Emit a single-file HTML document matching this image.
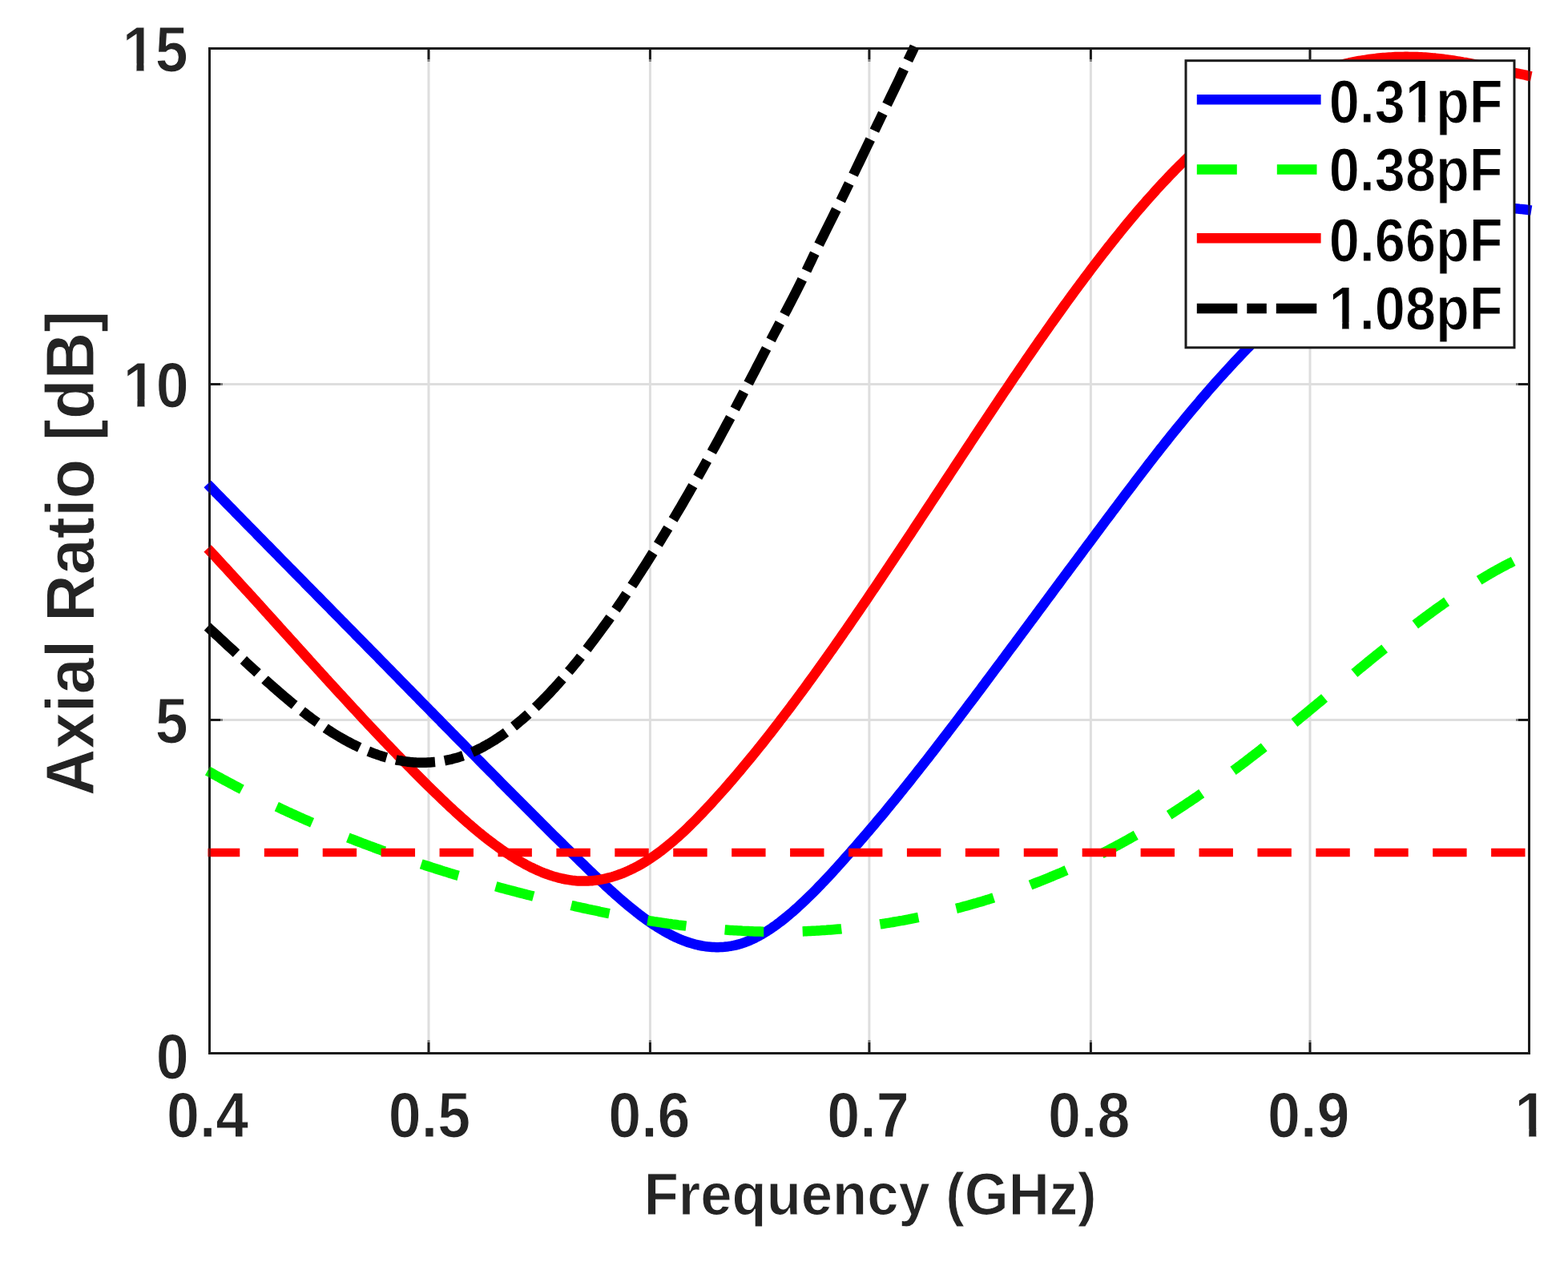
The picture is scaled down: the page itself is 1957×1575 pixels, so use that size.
<!DOCTYPE html>
<html lang="en">
<head>
<meta charset="utf-8">
<title>Axial Ratio vs Frequency</title>
<style>
html,body{margin:0;padding:0;background:#ffffff;}
body{width:1957px;height:1575px;overflow:hidden;font-family:'Liberation Sans', Arial, Helvetica, sans-serif;}
svg text{white-space:pre;}
</style>
</head>
<body>
<svg xmlns="http://www.w3.org/2000/svg" width="1957" height="1575" viewBox="0 0 1957 1575" style="display:block">
<rect x="0" y="0" width="1957" height="1575" fill="#ffffff"/>
<g stroke="#dedede" stroke-width="3" fill="none">
<line x1="535.0" y1="60.5" x2="535.0" y2="1314.5"/>
<line x1="811.4" y1="60.5" x2="811.4" y2="1314.5"/>
<line x1="1084.9" y1="60.5" x2="1084.9" y2="1314.5"/>
<line x1="1361.4" y1="60.5" x2="1361.4" y2="1314.5"/>
<line x1="1635.0" y1="60.5" x2="1635.0" y2="1314.5"/>
<line x1="261.5" y1="898.5" x2="1908.5" y2="898.5"/>
<line x1="261.5" y1="479.5" x2="1908.5" y2="479.5"/>
</g>
<rect x="261.5" y="60.5" width="1647.0" height="1254.0" fill="none" stroke="#1b1b1b" stroke-width="3"/>
<g fill="none" stroke-linejoin="round" stroke-linecap="butt">
<path d="M259.0,604.0 L261.5,606.6 L264.0,609.2 L266.5,611.7 L269.0,614.3 L271.5,616.8 L274.0,619.4 L276.5,621.9 L279.0,624.5 L281.5,627.0 L284.0,629.6 L286.5,632.1 L289.0,634.7 L291.5,637.2 L294.0,639.8 L296.5,642.3 L299.0,644.9 L301.5,647.4 L304.0,650.0 L306.5,652.5 L309.0,655.1 L311.5,657.6 L314.0,660.2 L316.5,662.7 L319.0,665.2 L321.5,667.8 L324.0,670.3 L326.5,672.9 L329.0,675.4 L331.5,678.0 L334.0,680.5 L336.5,683.0 L339.0,685.6 L341.5,688.1 L344.0,690.7 L346.5,693.2 L349.0,695.8 L351.5,698.3 L354.0,700.8 L356.5,703.4 L359.0,705.9 L361.5,708.5 L364.0,711.0 L366.5,713.5 L369.0,716.1 L371.5,718.6 L374.0,721.2 L376.5,723.7 L379.0,726.2 L381.5,728.8 L384.0,731.3 L386.5,733.9 L389.0,736.4 L391.5,738.9 L394.0,741.5 L396.5,744.0 L399.0,746.5 L401.5,749.1 L404.0,751.6 L406.5,754.2 L409.0,756.7 L411.5,759.2 L414.0,761.8 L416.5,764.3 L419.0,766.9 L421.5,769.4 L424.0,771.9 L426.5,774.5 L429.0,777.0 L431.5,779.6 L434.0,782.1 L436.5,784.6 L439.0,787.2 L441.5,789.7 L444.0,792.3 L446.5,794.8 L449.0,797.4 L451.5,799.9 L454.0,802.4 L456.5,805.0 L459.0,807.5 L461.5,810.1 L464.0,812.6 L466.5,815.2 L469.0,817.7 L471.5,820.2 L474.0,822.8 L476.5,825.3 L479.0,827.9 L481.5,830.4 L484.0,833.0 L486.5,835.5 L489.0,838.1 L491.5,840.6 L494.0,843.2 L496.5,845.7 L499.0,848.3 L501.5,850.8 L504.0,853.4 L506.5,855.9 L509.0,858.5 L511.5,861.0 L514.0,863.6 L516.5,866.1 L519.0,868.7 L521.5,871.2 L524.0,873.8 L526.5,876.3 L529.0,878.9 L531.5,881.4 L534.0,883.9 L536.5,886.5 L539.0,889.0 L541.5,891.6 L544.0,894.1 L546.5,896.7 L549.0,899.2 L551.5,901.8 L554.0,904.3 L556.5,906.9 L559.0,909.4 L561.5,911.9 L564.0,914.5 L566.5,917.0 L569.0,919.6 L571.5,922.1 L574.0,924.7 L576.5,927.2 L579.0,929.7 L581.5,932.3 L584.0,934.8 L586.5,937.3 L589.0,939.9 L591.5,942.4 L594.0,944.9 L596.5,947.5 L599.0,950.0 L601.5,952.5 L604.0,955.1 L606.5,957.6 L609.0,960.1 L611.5,962.7 L614.0,965.2 L616.5,967.7 L619.0,970.2 L621.5,972.7 L624.0,975.3 L626.5,977.8 L629.0,980.3 L631.5,982.8 L634.0,985.3 L636.5,987.9 L639.0,990.4 L641.5,992.9 L644.0,995.4 L646.5,997.9 L649.0,1000.4 L651.5,1002.9 L654.0,1005.4 L656.5,1007.9 L659.0,1010.4 L661.5,1012.9 L664.0,1015.4 L666.5,1017.9 L669.0,1020.4 L671.5,1022.9 L673.9,1025.4 L676.4,1027.9 L678.9,1030.4 L681.4,1032.8 L683.9,1035.3 L686.4,1037.8 L688.9,1040.3 L691.4,1042.8 L693.9,1045.2 L696.4,1047.7 L698.9,1050.2 L701.4,1052.6 L703.9,1055.1 L706.4,1057.6 L708.9,1060.0 L711.4,1062.5 L713.9,1064.9 L716.4,1067.4 L718.9,1069.9 L721.4,1072.3 L723.9,1074.8 L726.4,1077.2 L728.9,1079.6 L731.4,1082.1 L733.9,1084.5 L736.4,1086.9 L738.9,1089.3 L741.4,1091.7 L743.9,1094.1 L746.4,1096.5 L748.9,1098.9 L751.4,1101.2 L753.9,1103.5 L756.4,1105.9 L758.9,1108.2 L761.4,1110.5 L763.9,1112.7 L766.4,1115.0 L768.9,1117.2 L771.4,1119.4 L773.9,1121.6 L776.4,1123.8 L778.9,1125.9 L781.4,1128.0 L783.9,1130.1 L786.4,1132.2 L788.9,1134.2 L791.4,1136.2 L793.9,1138.2 L796.4,1140.1 L798.9,1142.1 L801.4,1143.9 L803.9,1145.8 L806.4,1147.6 L808.9,1149.4 L811.4,1151.1 L813.9,1152.8 L816.4,1154.5 L818.9,1156.1 L821.4,1157.7 L823.9,1159.2 L826.4,1160.7 L828.9,1162.2 L831.4,1163.6 L833.9,1165.0 L836.4,1166.3 L838.9,1167.6 L841.4,1168.8 L843.9,1170.0 L846.4,1171.1 L848.9,1172.2 L851.4,1173.2 L853.9,1174.2 L856.4,1175.1 L858.9,1176.0 L861.4,1176.8 L863.9,1177.5 L866.4,1178.2 L868.9,1178.9 L871.4,1179.5 L873.9,1180.0 L876.4,1180.5 L878.9,1180.9 L881.4,1181.3 L883.9,1181.6 L886.4,1181.8 L888.9,1182.0 L891.4,1182.1 L893.9,1182.2 L896.4,1182.2 L898.9,1182.1 L901.4,1182.0 L903.9,1181.8 L906.4,1181.5 L908.9,1181.2 L911.4,1180.8 L913.9,1180.4 L916.4,1179.9 L918.9,1179.3 L921.4,1178.7 L923.9,1177.9 L926.4,1177.2 L928.9,1176.3 L931.4,1175.4 L933.9,1174.4 L936.4,1173.4 L938.9,1172.2 L941.4,1171.1 L943.9,1169.8 L946.4,1168.5 L948.9,1167.1 L951.4,1165.7 L953.9,1164.2 L956.4,1162.7 L958.9,1161.1 L961.4,1159.5 L963.9,1157.7 L966.4,1156.0 L968.9,1154.2 L971.4,1152.3 L973.9,1150.5 L976.4,1148.5 L978.9,1146.5 L981.4,1144.5 L983.9,1142.4 L986.4,1140.3 L988.9,1138.2 L991.4,1136.0 L993.9,1133.8 L996.4,1131.5 L998.9,1129.2 L1001.4,1126.9 L1003.9,1124.5 L1006.4,1122.2 L1008.9,1119.7 L1011.4,1117.3 L1013.9,1114.8 L1016.4,1112.3 L1018.9,1109.8 L1021.4,1107.2 L1023.9,1104.6 L1026.4,1102.0 L1028.9,1099.4 L1031.4,1096.7 L1033.9,1094.1 L1036.4,1091.4 L1038.9,1088.7 L1041.4,1085.9 L1043.9,1083.2 L1046.4,1080.4 L1048.9,1077.6 L1051.4,1074.8 L1053.9,1072.0 L1056.4,1069.2 L1058.9,1066.4 L1061.4,1063.6 L1063.9,1060.7 L1066.4,1057.9 L1068.9,1055.0 L1071.4,1052.1 L1073.9,1049.2 L1076.4,1046.3 L1078.9,1043.4 L1081.4,1040.5 L1083.9,1037.6 L1086.4,1034.7 L1088.9,1031.7 L1091.4,1028.8 L1093.9,1025.8 L1096.4,1022.8 L1098.9,1019.9 L1101.4,1016.9 L1103.9,1013.9 L1106.4,1010.8 L1108.9,1007.8 L1111.4,1004.8 L1113.9,1001.7 L1116.4,998.7 L1118.9,995.6 L1121.4,992.5 L1123.9,989.4 L1126.4,986.3 L1128.9,983.2 L1131.4,980.1 L1133.9,977.0 L1136.4,973.8 L1138.9,970.7 L1141.4,967.5 L1143.9,964.4 L1146.4,961.2 L1148.9,958.0 L1151.4,954.9 L1153.9,951.7 L1156.4,948.5 L1158.9,945.3 L1161.4,942.0 L1163.9,938.8 L1166.4,935.6 L1168.9,932.4 L1171.4,929.1 L1173.9,925.9 L1176.4,922.6 L1178.9,919.3 L1181.4,916.1 L1183.9,912.8 L1186.4,909.5 L1188.9,906.2 L1191.4,903.0 L1193.9,899.7 L1196.4,896.4 L1198.9,893.1 L1201.4,889.8 L1203.9,886.5 L1206.4,883.1 L1208.9,879.8 L1211.4,876.5 L1213.9,873.2 L1216.4,869.9 L1218.9,866.5 L1221.4,863.2 L1223.9,859.9 L1226.4,856.5 L1228.9,853.2 L1231.4,849.8 L1233.9,846.5 L1236.4,843.1 L1238.9,839.8 L1241.4,836.4 L1243.9,833.1 L1246.4,829.7 L1248.9,826.4 L1251.4,823.0 L1253.9,819.7 L1256.4,816.3 L1258.9,812.9 L1261.4,809.6 L1263.9,806.2 L1266.4,802.9 L1268.9,799.5 L1271.4,796.1 L1273.9,792.8 L1276.4,789.4 L1278.9,786.0 L1281.4,782.6 L1283.9,779.3 L1286.4,775.9 L1288.9,772.5 L1291.4,769.2 L1293.9,765.8 L1296.4,762.4 L1298.9,759.0 L1301.4,755.7 L1303.9,752.3 L1306.4,748.9 L1308.9,745.6 L1311.4,742.2 L1313.9,738.8 L1316.4,735.4 L1318.9,732.1 L1321.4,728.7 L1323.9,725.3 L1326.4,721.9 L1328.9,718.6 L1331.4,715.2 L1333.9,711.8 L1336.4,708.5 L1338.9,705.1 L1341.4,701.7 L1343.9,698.4 L1346.4,695.0 L1348.9,691.7 L1351.4,688.3 L1353.9,684.9 L1356.4,681.6 L1358.9,678.2 L1361.4,674.9 L1363.9,671.5 L1366.4,668.2 L1368.9,664.8 L1371.4,661.5 L1373.9,658.1 L1376.4,654.8 L1378.9,651.4 L1381.4,648.1 L1383.9,644.7 L1386.4,641.4 L1388.9,638.1 L1391.4,634.7 L1393.9,631.4 L1396.4,628.1 L1398.9,624.8 L1401.4,621.4 L1403.9,618.1 L1406.4,614.8 L1408.9,611.5 L1411.4,608.2 L1413.9,604.9 L1416.4,601.6 L1418.9,598.3 L1421.4,595.0 L1423.9,591.7 L1426.4,588.5 L1428.9,585.2 L1431.4,581.9 L1433.9,578.7 L1436.4,575.5 L1438.9,572.2 L1441.4,569.0 L1443.9,565.8 L1446.4,562.6 L1448.9,559.4 L1451.4,556.3 L1453.9,553.1 L1456.4,550.0 L1458.9,546.9 L1461.4,543.7 L1463.9,540.6 L1466.4,537.6 L1468.9,534.5 L1471.4,531.4 L1473.9,528.4 L1476.4,525.3 L1478.9,522.3 L1481.4,519.3 L1483.9,516.3 L1486.4,513.3 L1488.9,510.3 L1491.4,507.4 L1493.9,504.4 L1496.4,501.5 L1498.8,498.6 L1501.3,495.7 L1503.8,492.8 L1506.3,489.9 L1508.8,487.0 L1511.3,484.2 L1513.8,481.3 L1516.3,478.5 L1518.8,475.7 L1521.3,472.9 L1523.8,470.1 L1526.3,467.4 L1528.8,464.6 L1531.3,461.9 L1533.8,459.2 L1536.3,456.5 L1538.8,453.8 L1541.3,451.1 L1543.8,448.4 L1546.3,445.8 L1548.8,443.2 L1551.3,440.5 L1553.8,437.9 L1556.3,435.4 L1558.8,432.8 L1561.3,430.2 L1563.8,427.7 L1566.3,425.2 L1568.8,422.7 L1571.3,420.2 L1573.8,417.7 L1576.3,415.2 L1578.8,412.8 L1581.3,410.4 L1583.8,408.0 L1586.3,405.6 L1588.8,403.2 L1591.3,400.8 L1593.8,398.5 L1596.3,396.2 L1598.8,393.9 L1601.3,391.6 L1603.8,389.3 L1606.3,387.0 L1608.8,384.8 L1611.3,382.6 L1613.8,380.3 L1616.3,378.2 L1618.8,376.0 L1621.3,373.8 L1623.8,371.7 L1626.3,369.6 L1628.8,367.5 L1631.3,365.4 L1633.8,363.3 L1636.3,361.3 L1638.8,359.2 L1641.3,357.2 L1643.8,355.2 L1646.3,353.2 L1648.8,351.3 L1651.3,349.3 L1653.8,347.4 L1656.3,345.5 L1658.8,343.6 L1661.3,341.7 L1663.8,339.9 L1666.3,338.1 L1668.8,336.3 L1671.3,334.5 L1673.8,332.7 L1676.3,330.9 L1678.8,329.2 L1681.3,327.5 L1683.8,325.8 L1686.3,324.1 L1688.8,322.5 L1691.3,320.8 L1693.8,319.2 L1696.3,317.6 L1698.8,316.0 L1701.3,314.5 L1703.8,312.9 L1706.3,311.4 L1708.8,309.9 L1711.3,308.4 L1713.8,307.0 L1716.3,305.5 L1718.8,304.1 L1721.3,302.7 L1723.8,301.4 L1726.3,300.0 L1728.8,298.7 L1731.3,297.4 L1733.8,296.1 L1736.3,294.8 L1738.8,293.5 L1741.3,292.3 L1743.8,291.1 L1746.3,289.9 L1748.8,288.8 L1751.3,287.6 L1753.8,286.5 L1756.3,285.4 L1758.8,284.3 L1761.3,283.3 L1763.8,282.2 L1766.3,281.2 L1768.8,280.2 L1771.3,279.2 L1773.8,278.3 L1776.3,277.4 L1778.8,276.5 L1781.3,275.6 L1783.8,274.7 L1786.3,273.9 L1788.8,273.1 L1791.3,272.3 L1793.8,271.5 L1796.3,270.8 L1798.8,270.1 L1801.3,269.4 L1803.8,268.7 L1806.3,268.0 L1808.8,267.4 L1811.3,266.8 L1813.8,266.2 L1816.3,265.7 L1818.8,265.1 L1821.3,264.6 L1823.8,264.1 L1826.3,263.7 L1828.8,263.2 L1831.3,262.8 L1833.8,262.4 L1836.3,262.1 L1838.8,261.7 L1841.3,261.4 L1843.8,261.1 L1846.3,260.8 L1848.8,260.6 L1851.3,260.4 L1853.8,260.2 L1856.3,260.0 L1858.8,259.8 L1861.3,259.7 L1863.8,259.6 L1866.3,259.6 L1868.8,259.5 L1871.3,259.5 L1873.8,259.5 L1876.3,259.5 L1878.8,259.6 L1881.3,259.7 L1883.8,259.8 L1886.3,259.9 L1888.8,260.0 L1891.3,260.2 L1893.8,260.4 L1896.3,260.7 L1898.8,260.9 L1901.3,261.2 L1903.8,261.5 L1906.3,261.9 L1908.8,262.2 L1911.3,262.6" stroke="#0000ff" stroke-width="12.5"/>
<path d="M259.0,962.0 L261.5,963.4 L264.0,964.8 L266.5,966.2 L269.0,967.6 L271.5,969.0 L274.0,970.3 L276.5,971.7 L279.0,973.1 L281.5,974.4 L284.0,975.7 L286.5,977.1 L289.0,978.4 L291.5,979.7 L294.0,981.1 L296.5,982.4 L299.0,983.7 L301.5,985.0 L304.0,986.3 L306.5,987.5 L309.0,988.8 L311.5,990.1 L314.0,991.4 L316.5,992.6 L319.0,993.9 L321.5,995.1 L324.0,996.4 L326.5,997.6 L329.0,998.8 L331.5,1000.0 L334.0,1001.3 L336.5,1002.5 L339.0,1003.7 L341.5,1004.9 L344.0,1006.1 L346.5,1007.2 L349.0,1008.4 L351.5,1009.6 L354.0,1010.8 L356.5,1011.9 L359.0,1013.1 L361.5,1014.2 L364.0,1015.4 L366.5,1016.5 L369.0,1017.7 L371.5,1018.8 L374.0,1019.9 L376.5,1021.0 L379.0,1022.1 L381.5,1023.2 L384.0,1024.3 L386.5,1025.4 L389.0,1026.5 L391.5,1027.6 L394.0,1028.7 L396.5,1029.7 L399.0,1030.8 L401.5,1031.9 L404.0,1032.9 L406.5,1034.0 L409.0,1035.0 L411.5,1036.1 L414.0,1037.1 L416.5,1038.1 L419.0,1039.2 L421.5,1040.2 L424.0,1041.2 L426.5,1042.2 L429.0,1043.2 L431.5,1044.2 L434.0,1045.2 L436.5,1046.2 L439.0,1047.2 L441.5,1048.1 L444.0,1049.1 L446.5,1050.1 L449.0,1051.0 L451.5,1052.0 L454.0,1053.0 L456.5,1053.9 L459.0,1054.8 L461.5,1055.8 L464.0,1056.7 L466.5,1057.6 L469.0,1058.6 L471.5,1059.5 L474.0,1060.4 L476.5,1061.3 L479.0,1062.2 L481.5,1063.1 L484.0,1064.0 L486.5,1064.9 L489.0,1065.8 L491.5,1066.7 L494.0,1067.6 L496.5,1068.4 L499.0,1069.3 L501.5,1070.2 L504.0,1071.0 L506.5,1071.9 L509.0,1072.7 L511.5,1073.6 L514.0,1074.4 L516.5,1075.3 L519.0,1076.1 L521.5,1076.9 L524.0,1077.8 L526.5,1078.6 L529.0,1079.4 L531.5,1080.2 L534.0,1081.0 L536.5,1081.8 L539.0,1082.6 L541.5,1083.4 L544.0,1084.2 L546.5,1085.0 L549.0,1085.8 L551.5,1086.6 L554.0,1087.4 L556.5,1088.1 L559.0,1088.9 L561.5,1089.7 L564.0,1090.4 L566.5,1091.2 L569.0,1091.9 L571.5,1092.7 L574.0,1093.4 L576.5,1094.2 L579.0,1094.9 L581.5,1095.7 L584.0,1096.4 L586.5,1097.1 L589.0,1097.9 L591.5,1098.6 L594.0,1099.3 L596.5,1100.0 L599.0,1100.7 L601.5,1101.4 L604.0,1102.1 L606.5,1102.8 L609.0,1103.5 L611.5,1104.2 L614.0,1104.9 L616.5,1105.6 L619.0,1106.3 L621.5,1107.0 L624.0,1107.7 L626.5,1108.4 L629.0,1109.0 L631.5,1109.7 L634.0,1110.4 L636.5,1111.0 L639.0,1111.7 L641.5,1112.3 L644.0,1113.0 L646.5,1113.7 L649.0,1114.3 L651.5,1114.9 L654.0,1115.6 L656.5,1116.2 L659.0,1116.9 L661.5,1117.5 L664.0,1118.1 L666.5,1118.8 L669.0,1119.4 L671.5,1120.0 L673.9,1120.6 L676.4,1121.3 L678.9,1121.9 L681.4,1122.5 L683.9,1123.1 L686.4,1123.7 L688.9,1124.3 L691.4,1124.9 L693.9,1125.5 L696.4,1126.1 L698.9,1126.7 L701.4,1127.3 L703.9,1127.9 L706.4,1128.4 L708.9,1129.0 L711.4,1129.6 L713.9,1130.2 L716.4,1130.7 L718.9,1131.3 L721.4,1131.8 L723.9,1132.4 L726.4,1133.0 L728.9,1133.5 L731.4,1134.0 L733.9,1134.6 L736.4,1135.1 L738.9,1135.7 L741.4,1136.2 L743.9,1136.7 L746.4,1137.2 L748.9,1137.8 L751.4,1138.3 L753.9,1138.8 L756.4,1139.3 L758.9,1139.8 L761.4,1140.3 L763.9,1140.8 L766.4,1141.3 L768.9,1141.7 L771.4,1142.2 L773.9,1142.7 L776.4,1143.2 L778.9,1143.6 L781.4,1144.1 L783.9,1144.6 L786.4,1145.0 L788.9,1145.5 L791.4,1145.9 L793.9,1146.3 L796.4,1146.8 L798.9,1147.2 L801.4,1147.6 L803.9,1148.0 L806.4,1148.5 L808.9,1148.9 L811.4,1149.3 L813.9,1149.7 L816.4,1150.1 L818.9,1150.4 L821.4,1150.8 L823.9,1151.2 L826.4,1151.6 L828.9,1152.0 L831.4,1152.3 L833.9,1152.7 L836.4,1153.0 L838.9,1153.4 L841.4,1153.7 L843.9,1154.0 L846.4,1154.4 L848.9,1154.7 L851.4,1155.0 L853.9,1155.3 L856.4,1155.6 L858.9,1155.9 L861.4,1156.2 L863.9,1156.5 L866.4,1156.8 L868.9,1157.1 L871.4,1157.4 L873.9,1157.6 L876.4,1157.9 L878.9,1158.1 L881.4,1158.4 L883.9,1158.6 L886.4,1158.9 L888.9,1159.1 L891.4,1159.3 L893.9,1159.5 L896.4,1159.7 L898.9,1159.9 L901.4,1160.1 L903.9,1160.3 L906.4,1160.5 L908.9,1160.7 L911.4,1160.9 L913.9,1161.0 L916.4,1161.2 L918.9,1161.3 L921.4,1161.5 L923.9,1161.6 L926.4,1161.8 L928.9,1161.9 L931.4,1162.0 L933.9,1162.1 L936.4,1162.2 L938.9,1162.3 L941.4,1162.4 L943.9,1162.5 L946.4,1162.6 L948.9,1162.6 L951.4,1162.7 L953.9,1162.7 L956.4,1162.8 L958.9,1162.8 L961.4,1162.9 L963.9,1162.9 L966.4,1162.9 L968.9,1162.9 L971.4,1162.9 L973.9,1162.9 L976.4,1162.9 L978.9,1162.9 L981.4,1162.8 L983.9,1162.8 L986.4,1162.8 L988.9,1162.7 L991.4,1162.7 L993.9,1162.6 L996.4,1162.5 L998.9,1162.5 L1001.4,1162.4 L1003.9,1162.3 L1006.4,1162.2 L1008.9,1162.1 L1011.4,1162.0 L1013.9,1161.8 L1016.4,1161.7 L1018.9,1161.6 L1021.4,1161.4 L1023.9,1161.3 L1026.4,1161.1 L1028.9,1160.9 L1031.4,1160.8 L1033.9,1160.6 L1036.4,1160.4 L1038.9,1160.2 L1041.4,1160.0 L1043.9,1159.8 L1046.4,1159.6 L1048.9,1159.4 L1051.4,1159.1 L1053.9,1158.9 L1056.4,1158.6 L1058.9,1158.4 L1061.4,1158.1 L1063.9,1157.9 L1066.4,1157.6 L1068.9,1157.3 L1071.4,1157.0 L1073.9,1156.7 L1076.4,1156.4 L1078.9,1156.1 L1081.4,1155.8 L1083.9,1155.4 L1086.4,1155.1 L1088.9,1154.8 L1091.4,1154.4 L1093.9,1154.1 L1096.4,1153.7 L1098.9,1153.3 L1101.4,1153.0 L1103.9,1152.6 L1106.4,1152.2 L1108.9,1151.8 L1111.4,1151.4 L1113.9,1151.0 L1116.4,1150.5 L1118.9,1150.1 L1121.4,1149.7 L1123.9,1149.2 L1126.4,1148.8 L1128.9,1148.3 L1131.4,1147.8 L1133.9,1147.4 L1136.4,1146.9 L1138.9,1146.4 L1141.4,1145.9 L1143.9,1145.4 L1146.4,1144.9 L1148.9,1144.4 L1151.4,1143.8 L1153.9,1143.3 L1156.4,1142.8 L1158.9,1142.2 L1161.4,1141.7 L1163.9,1141.1 L1166.4,1140.5 L1168.9,1140.0 L1171.4,1139.4 L1173.9,1138.8 L1176.4,1138.2 L1178.9,1137.6 L1181.4,1137.0 L1183.9,1136.3 L1186.4,1135.7 L1188.9,1135.1 L1191.4,1134.4 L1193.9,1133.8 L1196.4,1133.1 L1198.9,1132.5 L1201.4,1131.8 L1203.9,1131.1 L1206.4,1130.4 L1208.9,1129.7 L1211.4,1129.0 L1213.9,1128.3 L1216.4,1127.6 L1218.9,1126.9 L1221.4,1126.1 L1223.9,1125.4 L1226.4,1124.7 L1228.9,1123.9 L1231.4,1123.1 L1233.9,1122.4 L1236.4,1121.6 L1238.9,1120.8 L1241.4,1120.0 L1243.9,1119.2 L1246.4,1118.4 L1248.9,1117.6 L1251.4,1116.7 L1253.9,1115.9 L1256.4,1115.1 L1258.9,1114.2 L1261.4,1113.4 L1263.9,1112.5 L1266.4,1111.6 L1268.9,1110.7 L1271.4,1109.8 L1273.9,1108.9 L1276.4,1108.0 L1278.9,1107.1 L1281.4,1106.2 L1283.9,1105.3 L1286.4,1104.3 L1288.9,1103.4 L1291.4,1102.4 L1293.9,1101.4 L1296.4,1100.5 L1298.9,1099.5 L1301.4,1098.5 L1303.9,1097.5 L1306.4,1096.5 L1308.9,1095.5 L1311.4,1094.4 L1313.9,1093.4 L1316.4,1092.3 L1318.9,1091.3 L1321.4,1090.2 L1323.9,1089.2 L1326.4,1088.1 L1328.9,1087.0 L1331.4,1085.9 L1333.9,1084.8 L1336.4,1083.7 L1338.9,1082.5 L1341.4,1081.4 L1343.9,1080.3 L1346.4,1079.1 L1348.9,1077.9 L1351.4,1076.8 L1353.9,1075.6 L1356.4,1074.4 L1358.9,1073.2 L1361.4,1072.0 L1363.9,1070.8 L1366.4,1069.6 L1368.9,1068.3 L1371.4,1067.1 L1373.9,1065.8 L1376.4,1064.6 L1378.9,1063.3 L1381.4,1062.0 L1383.9,1060.7 L1386.4,1059.4 L1388.9,1058.1 L1391.4,1056.8 L1393.9,1055.4 L1396.4,1054.1 L1398.9,1052.7 L1401.4,1051.4 L1403.9,1050.0 L1406.4,1048.6 L1408.9,1047.2 L1411.4,1045.8 L1413.9,1044.4 L1416.4,1043.0 L1418.9,1041.6 L1421.4,1040.1 L1423.9,1038.7 L1426.4,1037.2 L1428.9,1035.8 L1431.4,1034.3 L1433.9,1032.8 L1436.4,1031.3 L1438.9,1029.8 L1441.4,1028.3 L1443.9,1026.7 L1446.4,1025.2 L1448.9,1023.7 L1451.4,1022.1 L1453.9,1020.5 L1456.4,1019.0 L1458.9,1017.4 L1461.4,1015.8 L1463.9,1014.2 L1466.4,1012.6 L1468.9,1010.9 L1471.4,1009.3 L1473.9,1007.7 L1476.4,1006.0 L1478.9,1004.4 L1481.4,1002.7 L1483.9,1001.0 L1486.4,999.4 L1488.9,997.7 L1491.4,996.0 L1493.9,994.3 L1496.4,992.5 L1498.8,990.8 L1501.3,989.1 L1503.8,987.3 L1506.3,985.6 L1508.8,983.8 L1511.3,982.1 L1513.8,980.3 L1516.3,978.5 L1518.8,976.7 L1521.3,974.9 L1523.8,973.1 L1526.3,971.3 L1528.8,969.5 L1531.3,967.7 L1533.8,965.8 L1536.3,964.0 L1538.8,962.1 L1541.3,960.3 L1543.8,958.4 L1546.3,956.5 L1548.8,954.7 L1551.3,952.8 L1553.8,950.9 L1556.3,949.0 L1558.8,947.1 L1561.3,945.1 L1563.8,943.2 L1566.3,941.3 L1568.8,939.4 L1571.3,937.4 L1573.8,935.5 L1576.3,933.5 L1578.8,931.5 L1581.3,929.6 L1583.8,927.6 L1586.3,925.6 L1588.8,923.6 L1591.3,921.6 L1593.8,919.6 L1596.3,917.6 L1598.8,915.6 L1601.3,913.6 L1603.8,911.6 L1606.3,909.5 L1608.8,907.5 L1611.3,905.5 L1613.8,903.4 L1616.3,901.4 L1618.8,899.3 L1621.3,897.3 L1623.8,895.2 L1626.3,893.2 L1628.8,891.1 L1631.3,889.1 L1633.8,887.0 L1636.3,884.9 L1638.8,882.9 L1641.3,880.8 L1643.8,878.7 L1646.3,876.7 L1648.8,874.6 L1651.3,872.5 L1653.8,870.4 L1656.3,868.4 L1658.8,866.3 L1661.3,864.2 L1663.8,862.1 L1666.3,860.0 L1668.8,858.0 L1671.3,855.9 L1673.8,853.8 L1676.3,851.7 L1678.8,849.7 L1681.3,847.6 L1683.8,845.5 L1686.3,843.5 L1688.8,841.4 L1691.3,839.3 L1693.8,837.3 L1696.3,835.2 L1698.8,833.2 L1701.3,831.1 L1703.8,829.1 L1706.3,827.0 L1708.8,825.0 L1711.3,822.9 L1713.8,820.9 L1716.3,818.9 L1718.8,816.8 L1721.3,814.8 L1723.8,812.8 L1726.3,810.8 L1728.8,808.8 L1731.3,806.8 L1733.8,804.8 L1736.3,802.8 L1738.8,800.8 L1741.3,798.8 L1743.8,796.9 L1746.3,794.9 L1748.8,793.0 L1751.3,791.0 L1753.8,789.1 L1756.3,787.1 L1758.8,785.2 L1761.3,783.3 L1763.8,781.4 L1766.3,779.5 L1768.8,777.6 L1771.3,775.7 L1773.8,773.8 L1776.3,771.9 L1778.8,770.1 L1781.3,768.2 L1783.8,766.4 L1786.3,764.6 L1788.8,762.7 L1791.3,760.9 L1793.8,759.1 L1796.3,757.3 L1798.8,755.6 L1801.3,753.8 L1803.8,752.0 L1806.3,750.3 L1808.8,748.6 L1811.3,746.9 L1813.8,745.1 L1816.3,743.4 L1818.8,741.8 L1821.3,740.1 L1823.8,738.4 L1826.3,736.8 L1828.8,735.2 L1831.3,733.5 L1833.8,731.9 L1836.3,730.3 L1838.8,728.8 L1841.3,727.2 L1843.8,725.7 L1846.3,724.1 L1848.8,722.6 L1851.3,721.1 L1853.8,719.6 L1856.3,718.1 L1858.8,716.7 L1861.3,715.2 L1863.8,713.8 L1866.3,712.4 L1868.8,711.0 L1871.3,709.6 L1873.8,708.3 L1876.3,706.9 L1878.8,705.6 L1881.3,704.3 L1883.8,703.0 L1886.3,701.8 L1888.8,700.5 L1891.3,699.3 L1893.8,698.1 L1896.3,696.9 L1898.8,695.7 L1901.3,694.5 L1903.8,693.4 L1906.3,692.3 L1908.8,691.2 L1911.3,690.1" stroke="#00ff00" stroke-width="12.5" stroke-dasharray="48.7 48.45" stroke-dashoffset="0"/>
<path d="M259.0,684.4 L261.5,687.1 L264.0,689.8 L266.5,692.4 L269.0,695.1 L271.5,697.8 L274.0,700.5 L276.5,703.2 L279.0,705.9 L281.5,708.6 L284.0,711.3 L286.5,714.1 L289.0,716.8 L291.5,719.5 L294.0,722.2 L296.5,725.0 L299.0,727.7 L301.5,730.4 L304.0,733.2 L306.5,735.9 L309.0,738.6 L311.5,741.4 L314.0,744.1 L316.5,746.9 L319.0,749.6 L321.5,752.4 L324.0,755.1 L326.5,757.9 L329.0,760.7 L331.5,763.4 L334.0,766.2 L336.5,768.9 L339.0,771.7 L341.5,774.5 L344.0,777.2 L346.5,780.0 L349.0,782.8 L351.5,785.5 L354.0,788.3 L356.5,791.1 L359.0,793.8 L361.5,796.6 L364.0,799.4 L366.5,802.1 L369.0,804.9 L371.5,807.7 L374.0,810.4 L376.5,813.2 L379.0,816.0 L381.5,818.7 L384.0,821.5 L386.5,824.3 L389.0,827.0 L391.5,829.8 L394.0,832.5 L396.5,835.3 L399.0,838.0 L401.5,840.8 L404.0,843.5 L406.5,846.3 L409.0,849.0 L411.5,851.8 L414.0,854.5 L416.5,857.2 L419.0,860.0 L421.5,862.7 L424.0,865.4 L426.5,868.1 L429.0,870.9 L431.5,873.6 L434.0,876.3 L436.5,879.0 L439.0,881.7 L441.5,884.4 L444.0,887.1 L446.5,889.8 L449.0,892.5 L451.5,895.2 L454.0,897.9 L456.5,900.5 L459.0,903.2 L461.5,905.9 L464.0,908.5 L466.5,911.2 L469.0,913.8 L471.5,916.5 L474.0,919.1 L476.5,921.7 L479.0,924.4 L481.5,927.0 L484.0,929.6 L486.5,932.2 L489.0,934.8 L491.5,937.4 L494.0,940.0 L496.5,942.6 L499.0,945.2 L501.5,947.7 L504.0,950.3 L506.5,952.8 L509.0,955.4 L511.5,957.9 L514.0,960.5 L516.5,963.0 L519.0,965.5 L521.5,968.0 L524.0,970.5 L526.5,973.0 L529.0,975.5 L531.5,978.0 L534.0,980.4 L536.5,982.9 L539.0,985.4 L541.5,987.8 L544.0,990.2 L546.5,992.6 L549.0,995.0 L551.5,997.4 L554.0,999.8 L556.5,1002.2 L559.0,1004.5 L561.5,1006.9 L564.0,1009.2 L566.5,1011.5 L569.0,1013.8 L571.5,1016.1 L574.0,1018.3 L576.5,1020.6 L579.0,1022.8 L581.5,1025.0 L584.0,1027.2 L586.5,1029.3 L589.0,1031.5 L591.5,1033.6 L594.0,1035.7 L596.5,1037.8 L599.0,1039.8 L601.5,1041.9 L604.0,1043.9 L606.5,1045.8 L609.0,1047.8 L611.5,1049.7 L614.0,1051.6 L616.5,1053.5 L619.0,1055.3 L621.5,1057.1 L624.0,1058.9 L626.5,1060.7 L629.0,1062.4 L631.5,1064.1 L634.0,1065.7 L636.5,1067.4 L639.0,1069.0 L641.5,1070.5 L644.0,1072.1 L646.5,1073.6 L649.0,1075.0 L651.5,1076.4 L654.0,1077.8 L656.5,1079.2 L659.0,1080.5 L661.5,1081.8 L664.0,1083.0 L666.5,1084.2 L669.0,1085.3 L671.5,1086.5 L673.9,1087.5 L676.4,1088.6 L678.9,1089.6 L681.4,1090.5 L683.9,1091.4 L686.4,1092.3 L688.9,1093.1 L691.4,1093.9 L693.9,1094.6 L696.4,1095.3 L698.9,1095.9 L701.4,1096.5 L703.9,1097.0 L706.4,1097.5 L708.9,1097.9 L711.4,1098.3 L713.9,1098.7 L716.4,1098.9 L718.9,1099.2 L721.4,1099.4 L723.9,1099.5 L726.4,1099.6 L728.9,1099.6 L731.4,1099.6 L733.9,1099.5 L736.4,1099.3 L738.9,1099.2 L741.4,1098.9 L743.9,1098.6 L746.4,1098.3 L748.9,1097.9 L751.4,1097.4 L753.9,1096.9 L756.4,1096.3 L758.9,1095.7 L761.4,1095.1 L763.9,1094.4 L766.4,1093.6 L768.9,1092.8 L771.4,1091.9 L773.9,1091.0 L776.4,1090.1 L778.9,1089.1 L781.4,1088.0 L783.9,1086.9 L786.4,1085.8 L788.9,1084.5 L791.4,1083.3 L793.9,1082.0 L796.4,1080.7 L798.9,1079.3 L801.4,1077.8 L803.9,1076.3 L806.4,1074.8 L808.9,1073.2 L811.4,1071.6 L813.9,1069.9 L816.4,1068.2 L818.9,1066.4 L821.4,1064.6 L823.9,1062.8 L826.4,1060.9 L828.9,1058.9 L831.4,1056.9 L833.9,1054.9 L836.4,1052.8 L838.9,1050.7 L841.4,1048.6 L843.9,1046.4 L846.4,1044.2 L848.9,1041.9 L851.4,1039.6 L853.9,1037.3 L856.4,1034.9 L858.9,1032.5 L861.4,1030.0 L863.9,1027.6 L866.4,1025.1 L868.9,1022.6 L871.4,1020.0 L873.9,1017.4 L876.4,1014.8 L878.9,1012.2 L881.4,1009.5 L883.9,1006.9 L886.4,1004.2 L888.9,1001.5 L891.4,998.7 L893.9,996.0 L896.4,993.2 L898.9,990.4 L901.4,987.6 L903.9,984.8 L906.4,982.0 L908.9,979.1 L911.4,976.2 L913.9,973.3 L916.4,970.4 L918.9,967.5 L921.4,964.5 L923.9,961.6 L926.4,958.6 L928.9,955.6 L931.4,952.6 L933.9,949.6 L936.4,946.5 L938.9,943.5 L941.4,940.4 L943.9,937.3 L946.4,934.2 L948.9,931.1 L951.4,928.0 L953.9,924.8 L956.4,921.7 L958.9,918.5 L961.4,915.3 L963.9,912.1 L966.4,908.9 L968.9,905.7 L971.4,902.4 L973.9,899.1 L976.4,895.9 L978.9,892.6 L981.4,889.3 L983.9,886.0 L986.4,882.7 L988.9,879.3 L991.4,876.0 L993.9,872.6 L996.4,869.3 L998.9,865.9 L1001.4,862.5 L1003.9,859.1 L1006.4,855.7 L1008.9,852.2 L1011.4,848.8 L1013.9,845.3 L1016.4,841.9 L1018.9,838.4 L1021.4,834.9 L1023.9,831.4 L1026.4,827.9 L1028.9,824.4 L1031.4,820.9 L1033.9,817.4 L1036.4,813.8 L1038.9,810.3 L1041.4,806.7 L1043.9,803.2 L1046.4,799.6 L1048.9,796.0 L1051.4,792.4 L1053.9,788.8 L1056.4,785.2 L1058.9,781.6 L1061.4,777.9 L1063.9,774.3 L1066.4,770.7 L1068.9,767.0 L1071.4,763.4 L1073.9,759.7 L1076.4,756.0 L1078.9,752.4 L1081.4,748.7 L1083.9,745.0 L1086.4,741.3 L1088.9,737.6 L1091.4,733.9 L1093.9,730.2 L1096.4,726.5 L1098.9,722.7 L1101.4,719.0 L1103.9,715.3 L1106.4,711.5 L1108.9,707.8 L1111.4,704.1 L1113.9,700.3 L1116.4,696.5 L1118.9,692.8 L1121.4,689.0 L1123.9,685.3 L1126.4,681.5 L1128.9,677.7 L1131.4,673.9 L1133.9,670.1 L1136.4,666.4 L1138.9,662.6 L1141.4,658.8 L1143.9,655.0 L1146.4,651.2 L1148.9,647.4 L1151.4,643.6 L1153.9,639.8 L1156.4,636.0 L1158.9,632.2 L1161.4,628.4 L1163.9,624.6 L1166.4,620.8 L1168.9,617.0 L1171.4,613.2 L1173.9,609.4 L1176.4,605.6 L1178.9,601.8 L1181.4,598.0 L1183.9,594.2 L1186.4,590.4 L1188.9,586.6 L1191.4,582.8 L1193.9,579.0 L1196.4,575.2 L1198.9,571.4 L1201.4,567.6 L1203.9,563.8 L1206.4,560.0 L1208.9,556.2 L1211.4,552.4 L1213.9,548.6 L1216.4,544.8 L1218.9,541.1 L1221.4,537.3 L1223.9,533.5 L1226.4,529.7 L1228.9,526.0 L1231.4,522.2 L1233.9,518.5 L1236.4,514.7 L1238.9,511.0 L1241.4,507.2 L1243.9,503.5 L1246.4,499.8 L1248.9,496.0 L1251.4,492.3 L1253.9,488.6 L1256.4,484.9 L1258.9,481.2 L1261.4,477.5 L1263.9,473.8 L1266.4,470.1 L1268.9,466.4 L1271.4,462.7 L1273.9,459.1 L1276.4,455.4 L1278.9,451.8 L1281.4,448.1 L1283.9,444.5 L1286.4,440.9 L1288.9,437.2 L1291.4,433.6 L1293.9,430.0 L1296.4,426.4 L1298.9,422.8 L1301.4,419.3 L1303.9,415.7 L1306.4,412.1 L1308.9,408.6 L1311.4,405.0 L1313.9,401.5 L1316.4,398.0 L1318.9,394.5 L1321.4,391.0 L1323.9,387.5 L1326.4,384.0 L1328.9,380.5 L1331.4,377.1 L1333.9,373.6 L1336.4,370.2 L1338.9,366.8 L1341.4,363.4 L1343.9,360.0 L1346.4,356.6 L1348.9,353.2 L1351.4,349.9 L1353.9,346.5 L1356.4,343.2 L1358.9,339.9 L1361.4,336.6 L1363.9,333.3 L1366.4,330.0 L1368.9,326.7 L1371.4,323.5 L1373.9,320.2 L1376.4,317.0 L1378.9,313.8 L1381.4,310.6 L1383.9,307.4 L1386.4,304.3 L1388.9,301.1 L1391.4,298.0 L1393.9,294.9 L1396.4,291.8 L1398.9,288.7 L1401.4,285.6 L1403.9,282.6 L1406.4,279.5 L1408.9,276.5 L1411.4,273.5 L1413.9,270.5 L1416.4,267.6 L1418.9,264.6 L1421.4,261.7 L1423.9,258.8 L1426.4,255.9 L1428.9,253.1 L1431.4,250.2 L1433.9,247.4 L1436.4,244.6 L1438.9,241.8 L1441.4,239.0 L1443.9,236.2 L1446.4,233.5 L1448.9,230.8 L1451.4,228.1 L1453.9,225.4 L1456.4,222.8 L1458.9,220.2 L1461.4,217.5 L1463.9,215.0 L1466.4,212.4 L1468.9,209.9 L1471.4,207.3 L1473.9,204.8 L1476.4,202.4 L1478.9,199.9 L1481.4,197.5 L1483.9,195.1 L1486.4,192.7 L1488.9,190.3 L1491.4,188.0 L1493.9,185.6 L1496.4,183.3 L1498.8,181.1 L1501.3,178.8 L1503.8,176.6 L1506.3,174.4 L1508.8,172.2 L1511.3,170.0 L1513.8,167.9 L1516.3,165.8 L1518.8,163.7 L1521.3,161.6 L1523.8,159.6 L1526.3,157.6 L1528.8,155.6 L1531.3,153.6 L1533.8,151.6 L1536.3,149.7 L1538.8,147.8 L1541.3,145.9 L1543.8,144.1 L1546.3,142.3 L1548.8,140.5 L1551.3,138.7 L1553.8,136.9 L1556.3,135.2 L1558.8,133.5 L1561.3,131.8 L1563.8,130.2 L1566.3,128.6 L1568.8,127.0 L1571.3,125.4 L1573.8,123.8 L1576.3,122.3 L1578.8,120.8 L1581.3,119.3 L1583.8,117.9 L1586.3,116.4 L1588.8,115.0 L1591.3,113.6 L1593.8,112.3 L1596.3,110.9 L1598.8,109.6 L1601.3,108.3 L1603.8,107.1 L1606.3,105.8 L1608.8,104.6 L1611.3,103.4 L1613.8,102.3 L1616.3,101.1 L1618.8,100.0 L1621.3,98.9 L1623.8,97.8 L1626.3,96.7 L1628.8,95.7 L1631.3,94.7 L1633.8,93.7 L1636.3,92.7 L1638.8,91.8 L1641.3,90.9 L1643.8,90.0 L1646.3,89.1 L1648.8,88.2 L1651.3,87.4 L1653.8,86.6 L1656.3,85.8 L1658.8,85.0 L1661.3,84.3 L1663.8,83.6 L1666.3,82.9 L1668.8,82.2 L1671.3,81.5 L1673.8,80.9 L1676.3,80.3 L1678.8,79.7 L1681.3,79.1 L1683.8,78.5 L1686.3,78.0 L1688.8,77.5 L1691.3,77.0 L1693.8,76.5 L1696.3,76.0 L1698.8,75.6 L1701.3,75.2 L1703.8,74.8 L1706.3,74.4 L1708.8,74.0 L1711.3,73.7 L1713.8,73.4 L1716.3,73.1 L1718.8,72.8 L1721.3,72.5 L1723.8,72.3 L1726.3,72.1 L1728.8,71.9 L1731.3,71.7 L1733.8,71.5 L1736.3,71.4 L1738.8,71.2 L1741.3,71.1 L1743.8,71.0 L1746.3,71.0 L1748.8,70.9 L1751.3,70.9 L1753.8,70.8 L1756.3,70.8 L1758.8,70.9 L1761.3,70.9 L1763.8,70.9 L1766.3,71.0 L1768.8,71.1 L1771.3,71.2 L1773.8,71.3 L1776.3,71.5 L1778.8,71.6 L1781.3,71.8 L1783.8,72.0 L1786.3,72.2 L1788.8,72.4 L1791.3,72.6 L1793.8,72.9 L1796.3,73.2 L1798.8,73.5 L1801.3,73.8 L1803.8,74.1 L1806.3,74.4 L1808.8,74.8 L1811.3,75.1 L1813.8,75.5 L1816.3,75.9 L1818.8,76.3 L1821.3,76.7 L1823.8,77.1 L1826.3,77.6 L1828.8,78.0 L1831.3,78.5 L1833.8,78.9 L1836.3,79.4 L1838.8,79.9 L1841.3,80.4 L1843.8,80.9 L1846.3,81.4 L1848.8,81.9 L1851.3,82.4 L1853.8,83.0 L1856.3,83.5 L1858.8,84.0 L1861.3,84.6 L1863.8,85.1 L1866.3,85.6 L1868.8,86.2 L1871.3,86.7 L1873.8,87.3 L1876.3,87.8 L1878.8,88.4 L1881.3,88.9 L1883.8,89.5 L1886.3,90.0 L1888.8,90.6 L1891.3,91.1 L1893.8,91.6 L1896.3,92.2 L1898.8,92.7 L1901.3,93.2 L1903.8,93.7 L1906.3,94.3 L1908.8,94.8 L1911.3,95.3" stroke="#ff0000" stroke-width="12.5"/>
<path d="M259.0,782.2 L261.5,784.5 L264.0,786.8 L266.5,789.1 L269.0,791.4 L271.5,793.7 L274.0,796.0 L276.5,798.3 L279.0,800.6 L281.5,803.0 L284.0,805.3 L286.5,807.6 L289.0,809.9 L291.5,812.2 L294.0,814.6 L296.5,816.9 L299.0,819.2 L301.5,821.5 L304.1,823.8 L306.6,826.2 L309.1,828.5 L311.6,830.8 L314.1,833.1 L316.6,835.4 L319.1,837.6 L321.6,839.9 L324.1,842.2 L326.6,844.5 L329.1,846.7 L331.6,849.0 L334.1,851.2 L336.6,853.4 L339.1,855.6 L341.6,857.9 L344.1,860.0 L346.6,862.2 L349.1,864.4 L351.6,866.5 L354.1,868.7 L356.6,870.8 L359.1,872.9 L361.6,875.0 L364.1,877.1 L366.6,879.1 L369.1,881.1 L371.6,883.2 L374.1,885.1 L376.6,887.1 L379.1,889.1 L381.6,891.0 L384.1,892.9 L386.6,894.8 L389.1,896.7 L391.6,898.5 L394.1,900.3 L396.7,902.1 L399.2,903.9 L401.7,905.6 L404.2,907.3 L406.7,909.0 L409.2,910.7 L411.7,912.3 L414.2,913.9 L416.7,915.5 L419.2,917.0 L421.7,918.5 L424.2,920.0 L426.7,921.4 L429.2,922.9 L431.7,924.2 L434.2,925.6 L436.7,926.9 L439.2,928.2 L441.7,929.5 L444.2,930.7 L446.7,931.9 L449.2,933.1 L451.7,934.2 L454.2,935.3 L456.7,936.4 L459.2,937.4 L461.7,938.4 L464.2,939.4 L466.7,940.3 L469.2,941.2 L471.7,942.1 L474.2,942.9 L476.7,943.7 L479.2,944.5 L481.7,945.2 L484.2,945.9 L486.8,946.5 L489.3,947.2 L491.8,947.7 L494.3,948.3 L496.8,948.8 L499.3,949.2 L501.8,949.7 L504.3,950.1 L506.8,950.4 L509.3,950.7 L511.8,951.0 L514.3,951.2 L516.8,951.4 L519.3,951.6 L521.8,951.7 L524.3,951.8 L526.8,951.8 L529.3,951.8 L531.8,951.7 L534.3,951.6 L536.8,951.5 L539.3,951.3 L541.8,951.1 L544.3,950.9 L546.8,950.6 L549.3,950.2 L551.8,949.8 L554.3,949.4 L556.8,948.9 L559.3,948.4 L561.8,947.9 L564.3,947.3 L566.8,946.6 L569.3,945.9 L571.8,945.2 L574.4,944.4 L576.9,943.5 L579.4,942.7 L581.9,941.7 L584.4,940.8 L586.9,939.8 L589.4,938.7 L591.9,937.6 L594.4,936.4 L596.9,935.2 L599.4,934.0 L601.9,932.7 L604.4,931.3 L606.9,929.9 L609.4,928.5 L611.9,927.0 L614.4,925.5 L616.9,924.0 L619.4,922.3 L621.9,920.7 L624.4,919.0 L626.9,917.3 L629.4,915.5 L631.9,913.7 L634.4,911.8 L636.9,909.9 L639.4,908.0 L641.9,906.0 L644.4,904.0 L646.9,901.9 L649.4,899.8 L651.9,897.7 L654.4,895.5 L656.9,893.3 L659.4,891.0 L661.9,888.7 L664.5,886.4 L667.0,884.0 L669.5,881.6 L672.0,879.2 L674.5,876.7 L677.0,874.2 L679.5,871.6 L682.0,869.1 L684.5,866.4 L687.0,863.8 L689.5,861.1 L692.0,858.4 L694.5,855.6 L697.0,852.9 L699.5,850.0 L702.0,847.2 L704.5,844.3 L707.0,841.4 L709.5,838.4 L712.0,835.5 L714.5,832.5 L717.0,829.4 L719.5,826.4 L722.0,823.3 L724.5,820.1 L727.0,817.0 L729.5,813.8 L732.0,810.6 L734.5,807.4 L737.0,804.1 L739.5,800.8 L742.0,797.5 L744.5,794.1 L747.0,790.8 L749.5,787.4 L752.0,783.9 L754.5,780.5 L757.1,777.0 L759.6,773.5 L762.1,770.0 L764.6,766.4 L767.1,762.8 L769.6,759.2 L772.1,755.6 L774.6,751.9 L777.1,748.3 L779.6,744.6 L782.1,740.8 L784.6,737.1 L787.1,733.3 L789.6,729.5 L792.1,725.7 L794.6,721.9 L797.1,718.0 L799.6,714.1 L802.1,710.2 L804.6,706.3 L807.1,702.4 L809.6,698.4 L812.1,694.4 L814.6,690.4 L817.1,686.4 L819.6,682.4 L822.1,678.3 L824.6,674.2 L827.1,670.1 L829.6,666.0 L832.1,661.8 L834.6,657.7 L837.1,653.5 L839.6,649.3 L842.1,645.1 L844.6,640.9 L847.2,636.6 L849.7,632.3 L852.2,628.0 L854.7,623.7 L857.2,619.4 L859.7,615.1 L862.2,610.7 L864.7,606.3 L867.2,601.9 L869.7,597.5 L872.2,593.1 L874.7,588.7 L877.2,584.2 L879.7,579.7 L882.2,575.2 L884.7,570.7 L887.2,566.2 L889.7,561.6 L892.2,557.1 L894.7,552.5 L897.2,547.9 L899.7,543.3 L902.2,538.6 L904.7,534.0 L907.2,529.3 L909.7,524.7 L912.2,520.0 L914.7,515.2 L917.2,510.5 L919.7,505.8 L922.2,501.0 L924.7,496.3 L927.2,491.5 L929.7,486.7 L932.2,481.9 L934.8,477.0 L937.3,472.2 L939.8,467.4 L942.3,462.6 L944.8,457.7 L947.3,452.9 L949.8,448.1 L952.3,443.2 L954.8,438.4 L957.3,433.6 L959.8,428.8 L962.3,424.0 L964.8,419.2 L967.3,414.4 L969.8,409.7 L972.3,404.9 L974.8,400.2 L977.3,395.5 L979.8,390.7 L982.3,386.0 L984.8,381.2 L987.3,376.4 L989.8,371.5 L992.3,366.7 L994.8,361.7 L997.3,356.7 L999.8,351.7 L1002.3,346.6 L1004.8,341.4 L1007.3,336.2 L1009.8,330.9 L1012.3,325.7 L1014.8,320.4 L1017.3,315.2 L1019.8,310.0 L1022.3,304.8 L1024.8,299.7 L1027.4,294.6 L1029.9,289.5 L1032.4,284.5 L1034.9,279.5 L1037.4,274.5 L1039.9,269.4 L1042.4,264.4 L1044.9,259.4 L1047.4,254.3 L1049.9,249.2 L1052.4,244.1 L1054.9,239.0 L1057.4,233.8 L1059.9,228.7 L1062.4,223.5 L1064.9,218.3 L1067.4,213.1 L1069.9,207.9 L1072.4,202.7 L1074.9,197.5 L1077.4,192.3 L1079.9,187.1 L1082.4,181.9 L1084.9,176.7 L1087.4,171.5 L1089.9,166.2 L1092.4,161.0 L1094.9,155.8 L1097.4,150.6 L1099.9,145.4 L1102.4,140.2 L1104.9,135.0 L1107.4,129.7 L1109.9,124.5 L1112.4,119.3 L1115.0,114.0 L1117.5,108.8 L1120.0,103.6 L1122.5,98.3 L1125.0,93.0 L1127.5,87.8 L1130.0,82.5 L1132.5,77.2 L1135.0,71.9 L1137.5,66.6 L1140.0,61.3 L1141.5,58.0" stroke="#000000" stroke-width="12.5" stroke-dasharray="49 12 24 12.15" stroke-dashoffset="0"/>
<path d="M259.5,1064.0 L1911.3,1064.0" stroke="#ff0000" stroke-width="10.4" stroke-dasharray="42.4 30.52" stroke-dashoffset="2.62"/>
</g>
<rect x="261.5" y="60.5" width="1647.0" height="1254.0" fill="none" stroke="#1b1b1b" stroke-width="3" stroke-opacity="0.55"/>
<g stroke="#1b1b1b" stroke-width="3" fill="none" stroke-linecap="butt">
<line x1="535.0" y1="1314.5" x2="535.0" y2="1301.0"/>
<line x1="535.0" y1="60.5" x2="535.0" y2="74.0"/>
<line x1="811.4" y1="1314.5" x2="811.4" y2="1301.0"/>
<line x1="811.4" y1="60.5" x2="811.4" y2="74.0"/>
<line x1="1084.9" y1="1314.5" x2="1084.9" y2="1301.0"/>
<line x1="1084.9" y1="60.5" x2="1084.9" y2="74.0"/>
<line x1="1361.4" y1="1314.5" x2="1361.4" y2="1301.0"/>
<line x1="1361.4" y1="60.5" x2="1361.4" y2="74.0"/>
<line x1="1635.0" y1="1314.5" x2="1635.0" y2="1301.0"/>
<line x1="1635.0" y1="60.5" x2="1635.0" y2="74.0"/>
<line x1="261.5" y1="898.5" x2="275.0" y2="898.5"/>
<line x1="1908.5" y1="898.5" x2="1895.0" y2="898.5"/>
<line x1="261.5" y1="479.5" x2="275.0" y2="479.5"/>
<line x1="1908.5" y1="479.5" x2="1895.0" y2="479.5"/>
</g>
<g stroke="#808080" stroke-width="3" fill="none">
<line x1="535.0" y1="1301.0" x2="535.0" y2="1298.0"/>
<line x1="535.0" y1="74.0" x2="535.0" y2="77.0"/>
<line x1="811.4" y1="1301.0" x2="811.4" y2="1298.0"/>
<line x1="811.4" y1="74.0" x2="811.4" y2="77.0"/>
<line x1="1084.9" y1="1301.0" x2="1084.9" y2="1298.0"/>
<line x1="1084.9" y1="74.0" x2="1084.9" y2="77.0"/>
<line x1="1361.4" y1="1301.0" x2="1361.4" y2="1298.0"/>
<line x1="1361.4" y1="74.0" x2="1361.4" y2="77.0"/>
<line x1="1635.0" y1="1301.0" x2="1635.0" y2="1298.0"/>
<line x1="1635.0" y1="74.0" x2="1635.0" y2="77.0"/>
<line x1="275.0" y1="898.5" x2="278.0" y2="898.5"/>
<line x1="1895.0" y1="898.5" x2="1892.0" y2="898.5"/>
<line x1="275.0" y1="479.5" x2="278.0" y2="479.5"/>
<line x1="1895.0" y1="479.5" x2="1892.0" y2="479.5"/>
</g>
<rect x="1480.0" y="75.7" width="410.0" height="358.1" fill="#ffffff" stroke="#1b1b1b" stroke-width="3"/>
<line x1="1493.8" y1="124.3" x2="1648.6" y2="124.3" stroke="#0000ff" stroke-width="12.5"/>
<line x1="1493.8" y1="211.5" x2="1643.5" y2="211.5" stroke="#00ff00" stroke-width="12.5" stroke-dasharray="50 50"/>
<line x1="1493.8" y1="297.3" x2="1648.6" y2="297.3" stroke="#ff0000" stroke-width="12.5"/>
<line x1="1493.8" y1="385.0" x2="1643.5" y2="385.0" stroke="#000000" stroke-width="12.5" stroke-dasharray="50.5 12 24.5 12"/>
<defs><clipPath id="c0" clipPathUnits="userSpaceOnUse"><path clip-rule="evenodd" d="M-50,-120 H2000 V60 H-50 Z M3.30,-12.71 H24.09 V4 H3.30 Z M36.31,-12.71 H55.33 V4 H36.31 Z"/></clipPath><clipPath id="c1" clipPathUnits="userSpaceOnUse"><path clip-rule="evenodd" d="M-50,-120 H2000 V60 H-50 Z M3.30,-12.71 H24.09 V4 H3.30 Z M36.31,-12.71 H55.33 V4 H36.31 Z"/></clipPath><clipPath id="c10" clipPathUnits="userSpaceOnUse"><path clip-rule="evenodd" d="M-50,-120 H2000 V60 H-50 Z M3.30,-12.71 H24.09 V4 H3.30 Z M36.31,-12.71 H55.33 V4 H36.31 Z"/></clipPath><clipPath id="c13" clipPathUnits="userSpaceOnUse"><path clip-rule="evenodd" d="M-50,-120 H2000 V60 H-50 Z M142.31,-12.71 H163.16 V4 H142.31 Z M175.27,-12.71 H194.35 V4 H175.27 Z"/></clipPath><clipPath id="c16" clipPathUnits="userSpaceOnUse"><path clip-rule="evenodd" d="M-50,-120 H2000 V60 H-50 Z M3.30,-12.71 H24.14 V4 H3.30 Z M36.26,-12.71 H55.33 V4 H36.26 Z"/></clipPath></defs>
<g font-family="'Liberation Sans', Arial, Helvetica, sans-serif" font-weight="bold">
<text transform="matrix(0.73700 0 0 0.79362 152.74 89.00)" font-size="100" fill="#242424" stroke="#ffffff" stroke-width="1.1" vector-effect="non-scaling-stroke" stroke-linejoin="miter" clip-path="url(#c0)">15</text>
<text transform="matrix(0.73700 0 0 0.79362 153.68 508.00)" font-size="100" fill="#242424" stroke="#ffffff" stroke-width="1.1" vector-effect="non-scaling-stroke" stroke-linejoin="miter" clip-path="url(#c1)">10</text>
<text transform="matrix(0.73700 0 0 0.79362 193.74 927.40)" font-size="100" fill="#242424" stroke="#ffffff" stroke-width="1.1" vector-effect="non-scaling-stroke" stroke-linejoin="miter">5</text>
<text transform="matrix(0.73700 0 0 0.79362 194.68 1346.40)" font-size="100" fill="#242424" stroke="#ffffff" stroke-width="1.1" vector-effect="non-scaling-stroke" stroke-linejoin="miter">0</text>
<text transform="matrix(0.73700 0 0 0.79362 207.91 1418.70)" font-size="100" fill="#242424" stroke="#ffffff" stroke-width="1.1" vector-effect="non-scaling-stroke" stroke-linejoin="miter">0.4</text>
<text transform="matrix(0.73700 0 0 0.79362 484.67 1418.70)" font-size="100" fill="#242424" stroke="#ffffff" stroke-width="1.1" vector-effect="non-scaling-stroke" stroke-linejoin="miter">0.5</text>
<text transform="matrix(0.73700 0 0 0.79362 759.16 1418.70)" font-size="100" fill="#242424" stroke="#ffffff" stroke-width="1.1" vector-effect="non-scaling-stroke" stroke-linejoin="miter">0.6</text>
<text transform="matrix(0.73700 0 0 0.79362 1032.23 1418.70)" font-size="100" fill="#242424" stroke="#ffffff" stroke-width="1.1" vector-effect="non-scaling-stroke" stroke-linejoin="miter">0.7</text>
<text transform="matrix(0.73700 0 0 0.79362 1307.93 1418.70)" font-size="100" fill="#242424" stroke="#ffffff" stroke-width="1.1" vector-effect="non-scaling-stroke" stroke-linejoin="miter">0.8</text>
<text transform="matrix(0.73700 0 0 0.79362 1581.94 1418.70)" font-size="100" fill="#242424" stroke="#ffffff" stroke-width="1.1" vector-effect="non-scaling-stroke" stroke-linejoin="miter">0.9</text>
<text transform="matrix(0.73700 0 0 0.79362 1890.56 1418.70)" font-size="100" fill="#242424" stroke="#ffffff" stroke-width="1.1" vector-effect="non-scaling-stroke" stroke-linejoin="miter" clip-path="url(#c10)">1</text>
<text transform="matrix(0.70611 0 0 0.75001 803.65 1515.70)" font-size="100" fill="#242424" stroke="#ffffff" stroke-width="1.1" vector-effect="non-scaling-stroke" stroke-linejoin="miter">Frequency (GHz)</text>
<text transform="matrix(0 -0.81365 0.84740 0 117.20 993.14)" font-size="100" fill="#242424" stroke="#ffffff" stroke-width="1.1" vector-effect="non-scaling-stroke" stroke-linejoin="miter">Axial Ratio [dB]</text>
<text transform="matrix(0.68500 0 0 0.75728 1658.70 153.10)" font-size="100" fill="#000000" stroke="#ffffff" stroke-width="1.1" vector-effect="non-scaling-stroke" stroke-linejoin="miter" clip-path="url(#c13)">0.31pF</text>
<text transform="matrix(0.68500 0 0 0.75728 1658.70 238.10)" font-size="100" fill="#000000" stroke="#ffffff" stroke-width="1.1" vector-effect="non-scaling-stroke" stroke-linejoin="miter">0.38pF</text>
<text transform="matrix(0.68500 0 0 0.75728 1658.70 326.00)" font-size="100" fill="#000000" stroke="#ffffff" stroke-width="1.1" vector-effect="non-scaling-stroke" stroke-linejoin="miter">0.66pF</text>
<text transform="matrix(0.68500 0 0 0.75728 1658.70 411.30)" font-size="100" fill="#000000" stroke="#ffffff" stroke-width="1.1" vector-effect="non-scaling-stroke" stroke-linejoin="miter" clip-path="url(#c16)">1.08pF</text>
</g>
</svg>
</body>
</html>
